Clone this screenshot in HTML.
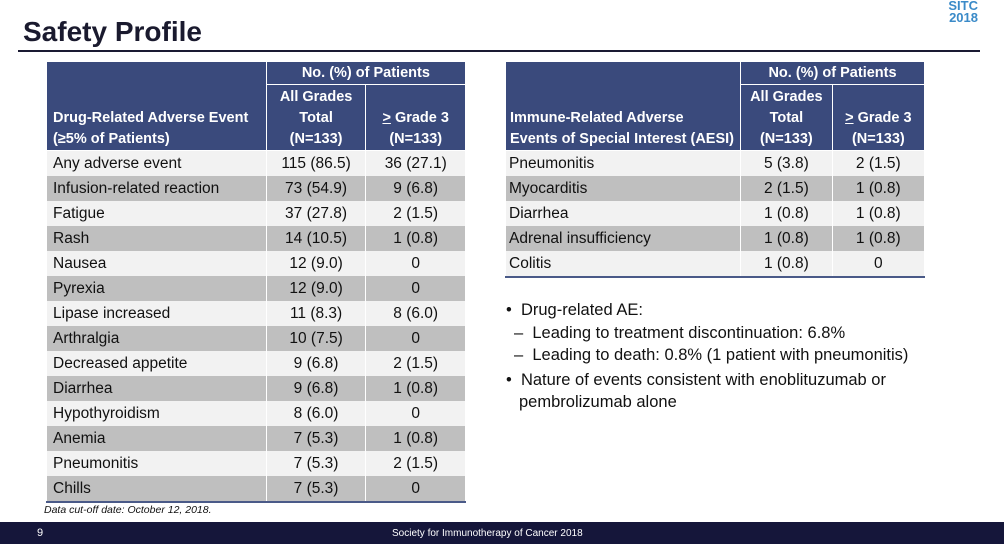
<!DOCTYPE html>
<html><head><meta charset="utf-8"><style>
body{margin:0;width:1004px;height:544px;position:relative;overflow:hidden;background:#fff;font-family:"Liberation Sans",sans-serif;color:#111}
.title{position:absolute;left:23px;top:16px;font-size:28px;font-weight:bold;color:#1a1a2e}
.rule{position:absolute;left:18px;top:50px;width:962px;height:2px;background:#1a1a33}
table{position:absolute;border-collapse:collapse;font-size:15.5px}
th{background:#3a4a7c;color:#fff;font-weight:bold;font-size:14.5px;line-height:21px;border:1px solid #fff;padding:0 6px;white-space:nowrap}
td{height:25px;padding:0 6px;border-left:1px solid #fff;border-right:1px solid #fff;white-space:nowrap}
td.c{text-align:center}
tr.o td{background:#f2f2f2}tr.e td{background:#bfbfbf}
tbody tr:last-child td{border-bottom:2px solid #4a5a88}
.foot{position:absolute;left:0;top:522px;width:1004px;height:22px;background:#15163a;color:#fff;font-size:10px}
.bul{position:absolute;left:506px;top:299px;font-size:16.5px;line-height:22.5px}
</style></head><body>
<div class="title">Safety Profile</div>
<div class="rule"></div>
<div style="position:absolute;right:26px;top:0;color:#3a8ac8;font-weight:bold;font-size:13px;line-height:12px;text-align:right">SITC<br>2018</div>
<table style="left:46px;top:61px;width:420px">
<colgroup><col style="width:220px"><col style="width:100px"><col style="width:100px"></colgroup>
<thead><tr><th rowspan="2" style="text-align:left;vertical-align:bottom;padding-bottom:0">Drug-Related Adverse Event<br>(≥5% of Patients)</th><th colspan="2" style="height:22px">No. (%) of Patients</th></tr>
<tr><th style="height:65px;vertical-align:bottom">All Grades<br>Total<br>(N=133)</th><th style="vertical-align:bottom;padding-bottom:0"><u>&gt;</u> Grade 3<br>(N=133)</th></tr></thead>
<tbody>
<tr class="o"><td>Any adverse event</td><td class="c">115 (86.5)</td><td class="c">36 (27.1)</td></tr>
<tr class="e"><td>Infusion-related reaction</td><td class="c">73 (54.9)</td><td class="c">9 (6.8)</td></tr>
<tr class="o"><td>Fatigue</td><td class="c">37 (27.8)</td><td class="c">2 (1.5)</td></tr>
<tr class="e"><td>Rash</td><td class="c">14 (10.5)</td><td class="c">1 (0.8)</td></tr>
<tr class="o"><td>Nausea</td><td class="c">12 (9.0)</td><td class="c">0</td></tr>
<tr class="e"><td>Pyrexia</td><td class="c">12 (9.0)</td><td class="c">0</td></tr>
<tr class="o"><td>Lipase increased</td><td class="c">11 (8.3)</td><td class="c">8 (6.0)</td></tr>
<tr class="e"><td>Arthralgia</td><td class="c">10 (7.5)</td><td class="c">0</td></tr>
<tr class="o"><td>Decreased appetite</td><td class="c">9 (6.8)</td><td class="c">2 (1.5)</td></tr>
<tr class="e"><td>Diarrhea</td><td class="c">9 (6.8)</td><td class="c">1 (0.8)</td></tr>
<tr class="o"><td>Hypothyroidism</td><td class="c">8 (6.0)</td><td class="c">0</td></tr>
<tr class="e"><td>Anemia</td><td class="c">7 (5.3)</td><td class="c">1 (0.8)</td></tr>
<tr class="o"><td>Pneumonitis</td><td class="c">7 (5.3)</td><td class="c">2 (1.5)</td></tr>
<tr class="e"><td>Chills</td><td class="c">7 (5.3)</td><td class="c">0</td></tr>
</tbody></table>
<table style="left:505px;top:61px;width:420px">
<colgroup><col style="width:235px"><col style="width:92px"><col style="width:93px"></colgroup>
<thead><tr><th rowspan="2" style="text-align:left;vertical-align:bottom;padding-bottom:0;padding-left:4px">Immune-Related Adverse<br>Events of Special Interest (AESI)</th><th colspan="2" style="height:22px">No. (%) of Patients</th></tr>
<tr><th style="height:65px;vertical-align:bottom">All Grades<br>Total<br>(N=133)</th><th style="vertical-align:bottom;padding-bottom:0"><u>&gt;</u> Grade 3<br>(N=133)</th></tr></thead>
<tbody>
<tr class="o"><td style="padding-left:3px">Pneumonitis</td><td class="c">5 (3.8)</td><td class="c">2 (1.5)</td></tr>
<tr class="e"><td style="padding-left:3px">Myocarditis</td><td class="c">2 (1.5)</td><td class="c">1 (0.8)</td></tr>
<tr class="o"><td style="padding-left:3px">Diarrhea</td><td class="c">1 (0.8)</td><td class="c">1 (0.8)</td></tr>
<tr class="e"><td style="padding-left:3px">Adrenal insufficiency</td><td class="c">1 (0.8)</td><td class="c">1 (0.8)</td></tr>
<tr class="o"><td style="padding-left:3px">Colitis</td><td class="c">1 (0.8)</td><td class="c">0</td></tr>
</tbody></table>
<div class="bul">
<div>•&nbsp; Drug-related AE:</div>
<div style="padding-left:8px">–&nbsp; Leading to treatment discontinuation: 6.8%</div>
<div style="padding-left:8px">–&nbsp; Leading to death: 0.8% (1 patient with pneumonitis)</div>
<div style="margin-top:2px">•&nbsp; Nature of events consistent with enoblituzumab or</div>
<div style="padding-left:13px">pembrolizumab alone</div>
</div>
<div style="position:absolute;left:44px;top:504px;font-size:10.5px;font-style:italic">Data cut-off date: October 12, 2018.</div>
<div class="foot"><span style="position:absolute;left:37px;top:5px;font-size:11px">9</span><span style="position:absolute;left:392px;top:6px">Society for Immunotherapy of Cancer 2018</span></div>
</body></html>
